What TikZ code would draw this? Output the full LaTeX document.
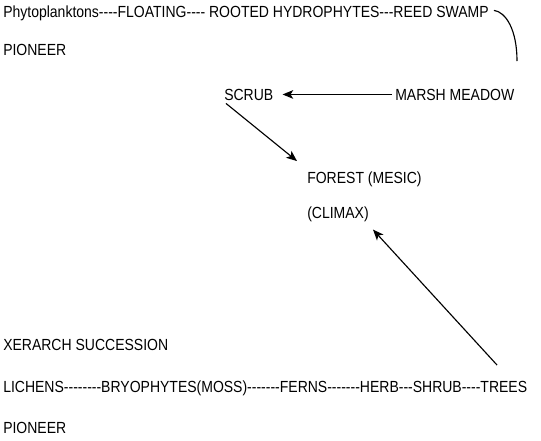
\documentclass[tikz,border=0pt]{standalone}
\usepackage{fontspec}
\setmainfont{Liberation Sans}[Ligatures=TeXOff]
\usetikzlibrary{arrows.meta,calc}
\newcommand{\tall}[1]{\scalebox{1}[1.15]{#1}}
\begin{document}
\begin{tikzpicture}[x=0.75pt,y=-0.75pt,
  lbl/.style={anchor=base west,inner sep=0pt,font=\fontsize{10.5}{12}\selectfont},
  conn/.style={line width=0.85pt},
  arr/.style={conn,-{Stealth[length=8pt,width=6.5pt,inset=2pt]}}]
\useasboundingbox (0,0) rectangle (541,440);
\node[lbl] (l1) at (3,17.5) {\tall{Phytoplanktons----FLOATING---- ROOTED HYDROPHYTES---REED SWAMP}};
\node[lbl] (p1) at (3,55) {\tall{PIONEER}};
\node[lbl] (scrub) at (224,100) {\tall{SCRUB}};
\node[lbl] (mm) at (395,100) {\tall{MARSH MEADOW}};
\node[lbl] (forest) at (307,183) {\tall{FOREST (MESIC)}};
\node[lbl] (climax) at (307,218) {\tall{(CLIMAX)}};
\node[lbl] (xer) at (3,350) {\tall{XERARCH SUCCESSION}};
\node[lbl] (l2) at (3,392) {\tall{LICHENS--------BRYOPHYTES(MOSS)-------FERNS-------HERB---SHRUB----TREES}};
\node[lbl] (p2) at (3,433) {\tall{PIONEER}};
\coordinate (cend) at (517,61);
\coordinate (tail) at (497,365);
\draw[conn] ($(l1.east)+(5,-3)$) .. controls (506,12) and (517,30) .. (cend);
\draw[arr] ($(mm.west)+(-3,0)$) -- ($(scrub.east)+(9,0)$);
\draw[arr] ($(scrub.south west)+(2,3)$) -- ($(forest.north west)+(-10,-10)$);
\draw[arr] (tail) -- ($(climax.south east)+(4,8)$);
\end{tikzpicture}
\end{document}
